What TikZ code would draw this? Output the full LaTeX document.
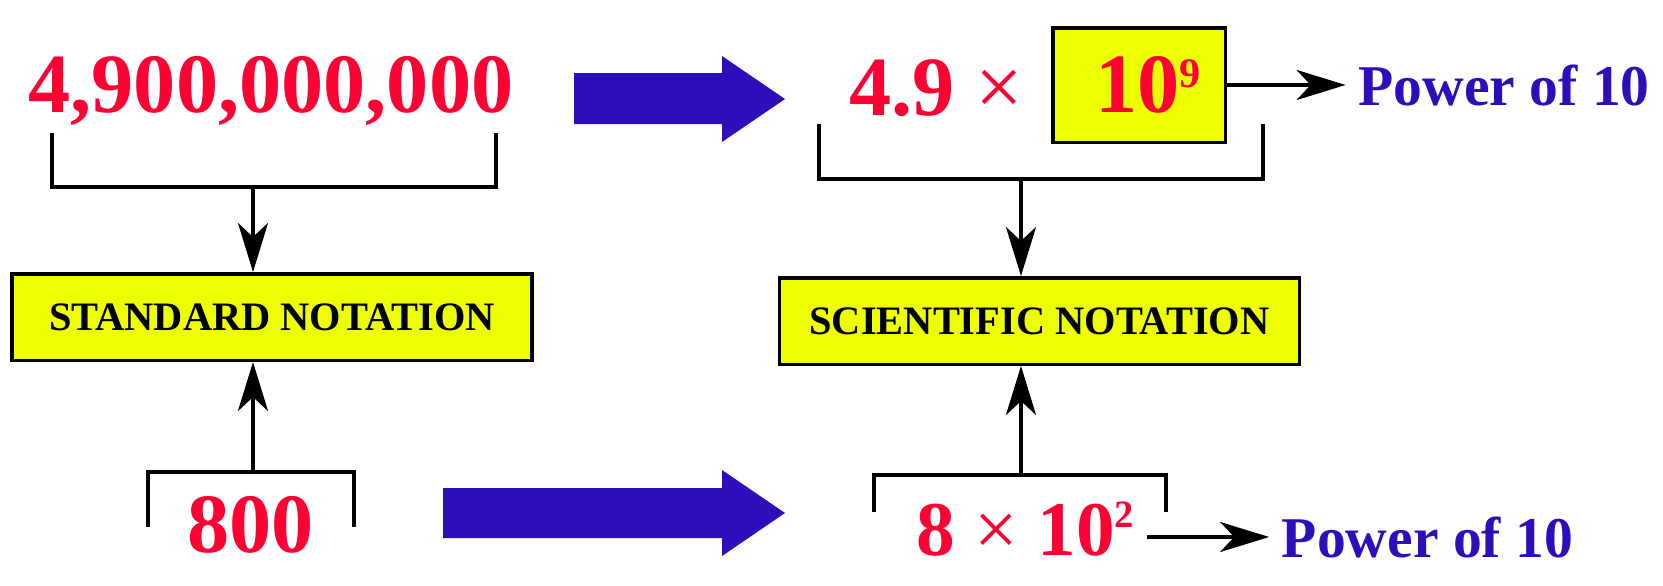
\documentclass[tikz,border=0pt]{standalone}
\usepackage{fontspec}
\setmainfont{Liberation Serif}
\usetikzlibrary{arrows.meta}
\definecolor{numred}{RGB}{255,0,51}
\definecolor{notblue}{RGB}{45,14,186}
\definecolor{boxyellow}{RGB}{238,255,0}
\newcommand{\expo}[3]{\raisebox{#1}{\fontsize{#2}{#2}\selectfont #3}}
\begin{document}
\begin{tikzpicture}[x=0.1mm,y=-0.1mm,num/.style={inner sep=1.2mm,text=numred,font=\fontsize{24}{24}\selectfont\bfseries},numS/.style={num,font=\fontsize{22}{22}\selectfont\bfseries},pow/.style={inner sep=1.2mm,text=notblue,font=\fontsize{16.4}{16.4}\selectfont\bfseries},notebox/.style={draw=black,line width=0.35mm,fill=boxyellow,minimum width=5.2cm,minimum height=0.865cm,inner sep=0pt,font=\fontsize{11.5}{11.5}\selectfont\bfseries},powbox/.style={notebox,minimum width=1.725cm,minimum height=1.145cm},brk/.style={line width=0.4mm},conn/.style={line width=0.4mm,-{Stealth[length=4.9mm,width=3mm,inset=1.4mm]}},bigarrow/.style={fill=notblue}]
\useasboundingbox (0,0) rectangle (1663,585);

% standard notation side
\node[num,anchor=base] (big) at (271,112) {4,900,000,000};
\draw[brk] (52,133) -- (52,187) -- (496,187) -- (496,133);
\coordinate (bigbr) at (253,187);
\node[notebox] (std) at (272,317) {STANDARD NOTATION};
\draw[conn] (bigbr) -- (std.north -| bigbr);

\node[num,anchor=base] (hund) at (250.5,552) {800};
\draw[brk] (148,527) -- (148,472) -- (354,472) -- (354,527);
\coordinate (hundbr) at (253,472);
\draw[conn] (hundbr) -- (std.south -| hundbr);

% blue block arrows
\fill[bigarrow] (574,73) -- (722,73) -- (722,56) -- (785,99) -- (722,142) -- (722,124) -- (574,124) -- cycle;
\fill[bigarrow] (443,488) -- (722,488) -- (722,470) -- (785,513) -- (722,556) -- (722,538) -- (443,538) -- cycle;

% scientific notation side
\node[num,anchor=base] (sci) at (936.5,115) {4.9 {\mdseries ×}};
\node[powbox] (pbox) at (1139,85) {};
\node[num,anchor=base] (ten) at (1148,112) {10\expo{7pt}{12pt}{9}};
\node[pow,anchor=base] (pow1) at (1504,105) {Power of 10};
\draw[conn] (pbox.east |- pow1.west) -- (pow1.west);

\draw[brk] (819,124) -- (819,179) -- (1263,179) -- (1263,124);
\coordinate (scibr) at (1021,179);
\node[notebox] (sn) at (1039.5,321) {SCIENTIFIC NOTATION};
\draw[conn] (scibr) -- (sn.north -| scibr);

\node[numS,anchor=base] (eight) at (1025.5,555) {8 {\mdseries ×} 10\expo{7.7pt}{11pt}{2}};
\draw[brk] (874,512) -- (874,475) -- (1166,475) -- (1166,512);
\coordinate (eightbr) at (1021,475);
\draw[conn] (eightbr) -- (sn.south -| eightbr);
\node[pow,anchor=base] (pow2) at (1427.5,557) {Power of 10};
\draw[conn] (eight.east |- pow2.west) -- (pow2.west);
\end{tikzpicture}
\end{document}
